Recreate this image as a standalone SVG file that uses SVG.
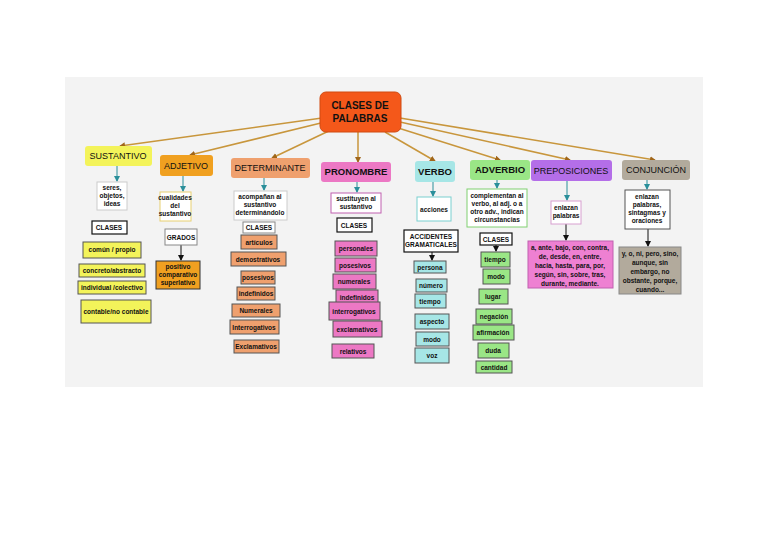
<svg xmlns="http://www.w3.org/2000/svg" width="768" height="543" viewBox="0 0 768 543">
<defs>
<marker id="ab" markerWidth="6" markerHeight="6" refX="5" refY="3" orient="auto" markerUnits="userSpaceOnUse"><path d="M0,0L6,3L0,6z" fill="#a0661a"/></marker>
<marker id="at" markerWidth="6" markerHeight="6" refX="5" refY="3" orient="auto" markerUnits="userSpaceOnUse"><path d="M0,0L6,3L0,6z" fill="#2a8f9a"/></marker>
<marker id="ak" markerWidth="6" markerHeight="6" refX="5" refY="3" orient="auto" markerUnits="userSpaceOnUse"><path d="M0,0L6,3L0,6z" fill="#111"/></marker>
</defs>
<style>
text{font-family:"Liberation Sans",Arial,sans-serif;text-anchor:middle;fill:#111}
.s{font-size:6.5px;font-weight:bold}
.h{font-size:9px}
.hb{font-size:9.5px;font-weight:bold}
.b{stroke:#555;stroke-width:1}
.k{stroke:#111;stroke-width:1.2;fill:#fff}
.m{stroke:#c8963c;stroke-width:1.5;fill:none;marker-end:url(#ab)}
.t{stroke:#2a8f9a;stroke-width:1;fill:none;marker-end:url(#at)}
.n{stroke:#111;stroke-width:1;fill:none;marker-end:url(#ak)}
.y{fill:#f3f35a}.o{fill:#f0a020}.d{fill:#efa06e}.p{fill:#ec78c4}.c{fill:#a6e6e6}.g{fill:#9ae686}
</style>
<rect x="0" y="0" width="768" height="543" fill="#fff"/>
<rect x="65" y="77" width="638" height="310" fill="#f3f3f3"/>
<g id="connectors">
<path class="m" d="M322,118L120,146"/>
<path class="m" d="M325,122L190,155"/>
<path class="m" d="M335,128L272,158"/>
<path class="m" d="M358,132L358,162"/>
<path class="m" d="M385,132L435,161"/>
<path class="m" d="M395,127L500,160"/>
<path class="m" d="M400,122L570,160"/>
<path class="m" d="M400,118L655,160"/>
<path class="t" d="M117,166V181"/><path class="t" d="M183,176V191"/><path class="t" d="M264,178V190"/>
<path class="t" d="M357,182V192"/><path class="t" d="M433,182V196"/><path class="t" d="M497,180V188"/>
<path class="t" d="M567,181V200"/><path class="t" d="M647,180V189"/>
<path class="n" d="M181,245V260"/><path class="n" d="M496,245V251"/><path class="n" d="M432,252V260"/>
<path class="n" d="M566,224V240"/><path class="n" d="M648,229V246"/>
</g>
<g id="central"><rect x="320" y="92" width="81" height="40" rx="6" fill="#f4581a" stroke="#d04a10"/><text x="360" y="109" class="hb" style="font-size:10px">CLASES DE</text><text x="360" y="122" class="hb" style="font-size:10px">PALABRAS</text></g>
<g id="sustantivo"><rect x="85" y="146" width="67" height="20" rx="3" class="y"/><text x="118" y="159" class="h">SUSTANTIVO</text></g>
<g id="sust-def"><rect x="97" y="182" width="30" height="28" fill="#fff" stroke="#ccc"/><text x="112" y="190" class="s">seres,</text><text x="112" y="198" class="s">objetos,</text><text x="112" y="206" class="s">ideas</text></g>
<g id="sust-clases"><rect x="92" y="221" width="35" height="13" class="k"/><text x="109" y="230" class="s">CLASES</text></g>
<g id="sust-items">
<rect x="83" y="242" width="58" height="16" class="y b"/><text x="112" y="252" class="s">común / propio</text>
<rect x="79" y="264" width="66" height="13" class="y b"/><text x="112" y="273" class="s">concreto/abstracto</text>
<rect x="78" y="281" width="68" height="13" class="y b"/><text x="112" y="290" class="s">individual /colectivo</text>
<rect x="81" y="300" width="70" height="23" class="y b"/><text x="116" y="314" class="s">contable/no contable</text>
</g>
<g id="adjetivo"><rect x="160" y="155" width="53" height="21" rx="3" class="o"/><text x="186" y="169" class="h">ADJETIVO</text></g>
<g id="adj-def"><rect x="160" y="192" width="31" height="29" fill="#fff" stroke="#e8d070"/><text x="175" y="200" class="s">cualidades</text><text x="175" y="208" class="s">del</text><text x="175" y="216" class="s">sustantivo</text></g>
<g id="adj-grados"><rect x="165" y="229" width="32" height="16" fill="#fff" stroke="#888"/><text x="181" y="240" class="s">GRADOS</text></g>
<g id="adj-items"><rect x="156" y="261" width="44" height="28" class="o" stroke="#333"/><text x="178" y="269" class="s">positivo</text><text x="178" y="277" class="s">comparativo</text><text x="178" y="285" class="s">superlativo</text></g>
<g id="determinante"><rect x="231" y="158" width="79" height="20" rx="3" class="d"/><text x="270" y="171" class="h">DETERMINANTE</text></g>
<g id="det-def"><rect x="234" y="191" width="53" height="29" fill="#fff" stroke="#ccc"/><text x="260" y="199" class="s">acompañan al</text><text x="260" y="207" class="s">sustantivo</text><text x="260" y="215" class="s">determinándolo</text></g>
<g id="det-clases"><rect x="243" y="222" width="32" height="11" fill="#fff" stroke="#888"/><text x="259" y="230" class="s">CLASES</text></g>
<g id="det-items">
<rect x="241" y="235" width="36" height="14" class="d b"/><text x="259" y="245" class="s">artículos</text>
<rect x="231" y="252" width="55" height="14" class="d b"/><text x="258" y="262" class="s">demostrativos</text>
<rect x="241" y="271" width="34" height="13" class="d b"/><text x="258" y="280" class="s">posesivos</text>
<rect x="237" y="287" width="38" height="13" class="d b"/><text x="256" y="296" class="s">indefinidos</text>
<rect x="232" y="304" width="48" height="13" class="d b"/><text x="256" y="313" class="s">Numerales</text>
<rect x="230" y="320" width="49" height="14" class="d b"/><text x="254" y="330" class="s">Interrogativos</text>
<rect x="234" y="340" width="45" height="13" class="d b"/><text x="256" y="349" class="s">Exclamativos</text>
</g>
<g id="pronombre"><rect x="321" y="162" width="70" height="20" rx="3" class="p"/><text x="356" y="175" class="hb">PRONOMBRE</text></g>
<g id="pron-def"><rect x="331" y="193" width="50" height="20" fill="#fff" stroke="#c060b0"/><text x="356" y="201" class="s">sustituyen al</text><text x="356" y="209" class="s">sustantivo</text></g>
<g id="pron-clases"><rect x="337" y="218" width="35" height="14" class="k"/><text x="354" y="228" class="s">CLASES</text></g>
<g id="pron-items">
<rect x="335" y="241" width="42" height="15" class="p b"/><text x="356" y="251" class="s">personales</text>
<rect x="335" y="258" width="41" height="14" class="p b"/><text x="355" y="268" class="s">posesivos</text>
<rect x="333" y="274" width="43" height="15" class="p b"/><text x="354" y="284" class="s">numerales</text>
<rect x="336" y="290" width="42" height="15" class="p b"/><text x="357" y="300" class="s">indefinidos</text>
<rect x="329" y="302" width="51" height="18" class="p b"/><text x="354" y="314" class="s">interrogativos</text>
<rect x="333" y="321" width="49" height="16" class="p b"/><text x="357" y="332" class="s">exclamativos</text>
<rect x="332" y="344" width="42" height="14" class="p b"/><text x="353" y="354" class="s">relativos</text>
</g>
<g id="verbo"><rect x="415" y="161" width="40" height="21" rx="3" class="c"/><text x="435" y="175" class="hb">VERBO</text></g>
<g id="verbo-def"><rect x="417" y="197" width="34" height="24" fill="#fff" stroke="#7ad0d0"/><text x="434" y="212" class="s">acciones</text></g>
<g id="verbo-acc"><rect x="404" y="230" width="54" height="22" class="k"/><text x="431" y="239" class="s">ACCIDENTES</text><text x="431" y="247" class="s">GRAMATICALES</text></g>
<g id="verbo-items">
<rect x="414" y="261" width="32" height="12" class="c b"/><text x="430" y="270" class="s">persona</text>
<rect x="416" y="279" width="31" height="13" class="c b"/><text x="431" y="288" class="s">número</text>
<rect x="415" y="294" width="31" height="14" class="c b"/><text x="430" y="304" class="s">tiempo</text>
<rect x="415" y="314" width="34" height="15" class="c b"/><text x="432" y="324" class="s">aspecto</text>
<rect x="416" y="332" width="33" height="14" class="c b"/><text x="432" y="342" class="s">modo</text>
<rect x="415" y="348" width="34" height="15" class="c b"/><text x="432" y="358" class="s">voz</text>
</g>
<g id="adverbio"><rect x="470" y="160" width="60" height="20" rx="3" class="g"/><text x="500" y="173" class="hb">ADVERBIO</text></g>
<g id="adv-def"><rect x="467" y="189" width="60" height="38" fill="#fff" stroke="#80d070"/><text x="497" y="198" class="s">complementan al</text><text x="497" y="206" class="s">verbo, al adj. o a</text><text x="497" y="214" class="s">otro adv., indican</text><text x="497" y="222" class="s">circunstancias</text></g>
<g id="adv-clases"><rect x="480" y="233" width="32" height="12" class="k"/><text x="496" y="242" class="s">CLASES</text></g>
<g id="adv-items">
<rect x="481" y="252" width="29" height="15" class="g b"/><text x="495" y="262" class="s">tiempo</text>
<rect x="483" y="269" width="27" height="15" class="g b"/><text x="496" y="279" class="s">modo</text>
<rect x="479" y="289" width="29" height="15" class="g b"/><text x="493" y="299" class="s">lugar</text>
<rect x="476" y="309" width="36" height="15" class="g b"/><text x="494" y="319" class="s">negación</text>
<rect x="473" y="325" width="41" height="15" class="g b"/><text x="493" y="335" class="s">afirmación</text>
<rect x="478" y="343" width="31" height="15" class="g b"/><text x="493" y="353" class="s">duda</text>
<rect x="476" y="361" width="36" height="12" class="g b"/><text x="494" y="370" class="s">cantidad</text>
</g>
<g id="preposiciones"><rect x="531" y="160" width="81" height="21" rx="3" fill="#b46ee8"/><text x="571" y="174" class="h">PREPOSICIONES</text></g>
<g id="prep-def"><rect x="551" y="201" width="30" height="23" fill="#fff" stroke="#d8a0d0"/><text x="566" y="210" class="s">enlazan</text><text x="566" y="218" class="s">palabras</text></g>
<g id="prep-list"><rect x="528" y="241" width="85" height="47" fill="#ee80d2" stroke="#c060b0"/>
<text x="570" y="250" class="s">a, ante, bajo, con, contra,</text><text x="570" y="259" class="s">de, desde, en, entre,</text><text x="570" y="268" class="s">hacia, hasta, para, por,</text><text x="570" y="277" class="s">según, sin, sobre, tras,</text><text x="570" y="286" class="s">durante, mediante.</text></g>
<g id="conjuncion"><rect x="622" y="160" width="68" height="20" rx="3" fill="#b2aa9c"/><text x="656" y="173" class="h">CONJUNCIÓN</text></g>
<g id="conj-def"><rect x="625" y="190" width="45" height="39" fill="#fff" stroke="#555"/><text x="647" y="199" class="s">enlazan</text><text x="647" y="207" class="s">palabras,</text><text x="647" y="215" class="s">sintagmas y</text><text x="647" y="223" class="s">oraciones</text></g>
<g id="conj-list"><rect x="619" y="247" width="62" height="47" fill="#b2aa9c" stroke="#888"/>
<text x="650" y="256" class="s">y, o, ni, pero, sino,</text><text x="650" y="265" class="s">aunque, sin</text><text x="650" y="274" class="s">embargo, no</text><text x="650" y="283" class="s">obstante, porque,</text><text x="650" y="292" class="s">cuando...</text></g>
</svg>
